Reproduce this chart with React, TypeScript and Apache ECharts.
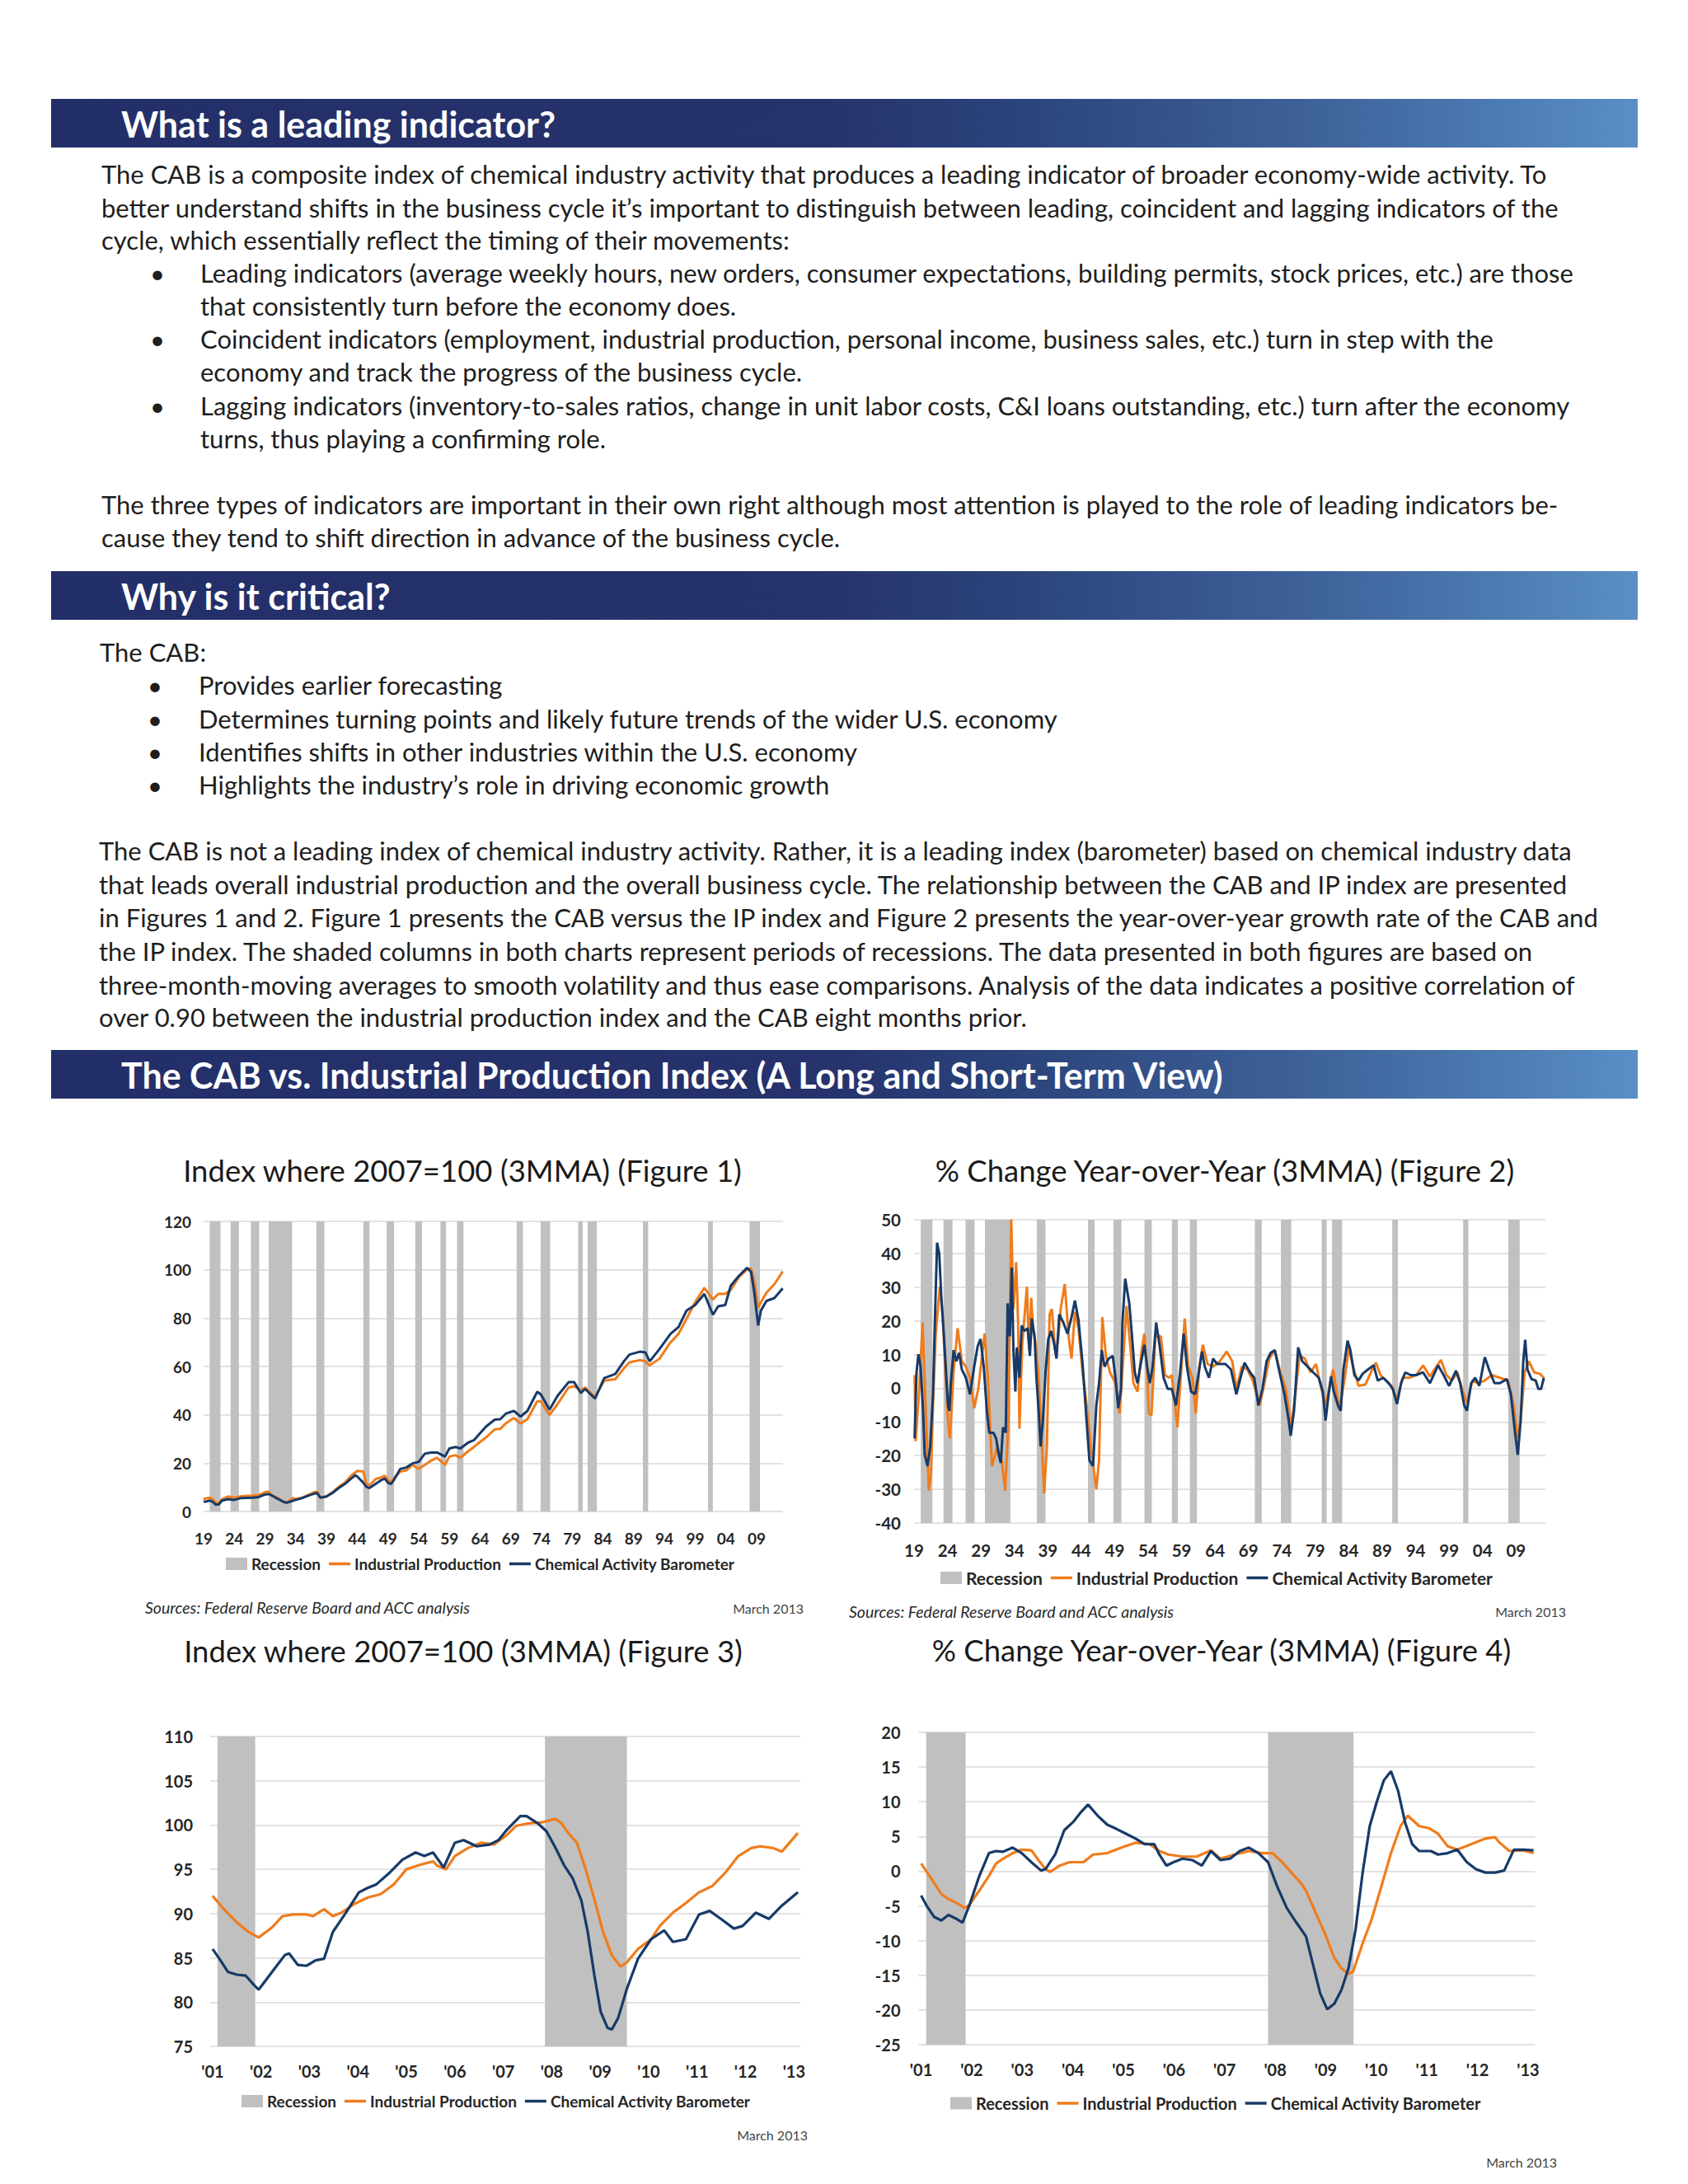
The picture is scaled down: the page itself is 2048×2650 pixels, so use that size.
import React, { useEffect, useRef } from "react";
import * as echarts from "echarts";

const FONT = "Lato, 'Open Sans', 'DejaVu Sans', sans-serif";
const TEXT = "#1e1e1e";
const ORANGE = "#f07c1b";
const NAVY = "#173a68";
const REC = "#c0c0c0";
const GRIDC = "#d9d9d9";

// NBER recession periods (decimal years) as drawn
const recessions: [number, number][] = [
  [1920.0, 1921.75], [1923.4, 1924.75], [1926.7, 1928.05], [1929.6, 1933.4],
  [1937.35, 1938.65], [1945.0, 1946.0], [1948.8, 1950.0], [1953.45, 1954.55],
  [1957.55, 1958.45], [1960.25, 1961.3], [1969.95, 1970.98], [1973.85, 1975.4],
  [1979.95, 1980.7], [1981.5, 1983.0], [1990.5, 1991.35], [2001.1, 2001.88],
  [2007.86, 2009.55],
];

// Figure 1: index 2007=100, long view
const fig1IP: [number, number][] = [
  [1919.0, 5.1], [1919.5, 5.5], [1920.0, 5.7], [1920.5, 5.2], [1921.0, 3.4], [1921.5, 3.6], [1922.0, 5.1],
  [1923.0, 6.2], [1924.0, 5.7], [1925.0, 6.2], [1926.0, 6.5], [1927.0, 6.6], [1928.0, 6.8], [1929.0, 8.0],
  [1929.6, 8.2], [1930.0, 6.8], [1931.0, 5.7], [1932.0, 4.0], [1932.5, 3.6], [1933.0, 4.5], [1933.6, 5.6],
  [1934.0, 5.1], [1935.0, 5.7], [1936.0, 6.8], [1937.0, 8.0], [1937.5, 8.2], [1938.0, 5.7], [1939.0, 6.2],
  [1940.0, 8.0], [1941.0, 10.2], [1942.0, 11.9], [1943.0, 14.8], [1944.0, 16.8], [1945.0, 16.5],
  [1945.5, 11.4], [1946.0, 10.8], [1947.0, 13.4], [1948.0, 14.2], [1948.5, 14.8], [1949.0, 13.1],
  [1949.5, 11.9], [1950.0, 13.9], [1951.0, 16.5], [1952.0, 17.0], [1953.0, 19.3], [1954.0, 17.6],
  [1955.0, 19.3], [1956.0, 21.0], [1957.0, 22.2], [1958.3, 19.3], [1959.0, 22.7], [1960.0, 23.3],
  [1960.8, 22.2], [1962.0, 24.8], [1963.0, 26.7], [1964.0, 28.8], [1965.0, 30.7], [1966.4, 34.0],
  [1967.3, 34.2], [1968.2, 36.5], [1969.5, 38.7], [1970.6, 36.4], [1971.7, 38.2], [1973.3, 45.6],
  [1973.9, 45.6], [1975.3, 39.9], [1976.6, 44.4], [1978.4, 51.3], [1979.3, 51.8], [1980.4, 50.0],
  [1981.1, 51.3], [1982.7, 47.3], [1984.2, 54.1], [1986.0, 54.7], [1987.4, 59.2], [1988.3, 61.7],
  [1990.0, 62.6], [1990.9, 62.1], [1991.6, 60.4], [1993.2, 63.2], [1995.0, 70.0], [1996.3, 73.5],
  [1997.6, 79.7], [1999.0, 86.6], [2000.5, 92.5], [2001.9, 87.7], [2002.75, 90.0], [2003.9, 90.0],
  [2004.8, 91.7], [2006.1, 96.8], [2007.45, 100.2], [2008.1, 100.5], [2008.6, 95.7], [2009.25, 84.3],
  [2009.7, 86.5], [2010.6, 90.5], [2011.9, 94.0], [2013.25, 99.3],
];
const fig1CAB: [number, number][] = [
  [1919.0, 4.0], [1919.5, 4.2], [1920.0, 4.5], [1920.5, 4.0], [1921.0, 2.8], [1921.5, 3.0], [1922.0, 4.5],
  [1923.0, 5.1], [1924.0, 4.8], [1925.0, 5.5], [1926.0, 5.6], [1927.0, 5.7], [1928.0, 6.0], [1929.0, 7.0],
  [1929.6, 7.2], [1930.0, 6.8], [1931.0, 5.3], [1932.0, 4.0], [1932.5, 3.6], [1933.0, 4.0], [1934.0, 4.8],
  [1935.0, 5.5], [1936.0, 6.5], [1937.0, 7.4], [1937.5, 7.6], [1938.0, 5.7], [1939.0, 6.2], [1940.0, 7.7],
  [1941.0, 9.7], [1942.0, 11.4], [1943.0, 13.6], [1943.7, 15.0], [1944.0, 14.5], [1945.0, 11.9],
  [1945.5, 10.2], [1946.0, 9.7], [1947.0, 11.4], [1948.0, 13.1], [1948.5, 13.6], [1949.0, 11.9],
  [1949.5, 11.4], [1950.0, 13.1], [1951.0, 17.6], [1952.0, 18.2], [1953.0, 19.9], [1954.0, 20.5],
  [1955.0, 23.9], [1956.0, 24.4], [1957.0, 24.4], [1958.3, 22.7], [1959.0, 26.1], [1960.0, 26.7],
  [1960.8, 26.1], [1962.0, 28.4], [1963.0, 29.5], [1964.0, 32.4], [1965.0, 35.2], [1966.4, 38.0],
  [1967.3, 38.2], [1968.2, 40.5], [1969.5, 41.6], [1970.6, 39.3], [1971.7, 41.6], [1973.3, 49.5],
  [1973.9, 48.4], [1975.3, 42.1], [1976.6, 47.8], [1978.4, 53.5], [1979.3, 53.5], [1980.4, 49.0],
  [1981.1, 50.7], [1982.7, 46.7], [1984.2, 55.2], [1986.0, 56.9], [1987.4, 62.1], [1988.3, 64.9],
  [1990.0, 66.1], [1990.9, 65.8], [1991.6, 62.1], [1993.2, 67.2], [1995.0, 73.5], [1996.3, 76.3],
  [1997.6, 83.1], [1999.0, 85.4], [2000.5, 90.0], [2001.9, 81.4], [2002.75, 84.9], [2003.9, 85.4],
  [2004.8, 93.4], [2006.1, 97.4], [2007.45, 100.8], [2008.1, 99.0], [2008.6, 91.1], [2009.25, 76.9],
  [2009.7, 83.1], [2010.6, 87.1], [2011.9, 88.3], [2013.25, 92.3],
];

// Figure 2: % change year-over-year, long view
const fig2IP: [number, number][] = [
  [1919.08, 3.9], [1919.24, -15.7], [1919.78, 0], [1920.27, 19.5], [1920.72, -5], [1921.21, -30.4],
  [1921.54, -25], [1921.83, -5], [1922.24, 16], [1922.85, 30.1], [1923.27, 22], [1923.68, 5], [1924.09, -10],
  [1924.37, -14.9], [1924.91, 5], [1925.52, 17.8], [1926.14, 8], [1926.75, 6.4], [1927.37, 3.1],
  [1927.99, -5.9], [1928.6, -0.2], [1929.55, 16.2], [1930.04, 3.1], [1930.65, -23.1], [1931.47, -17.3],
  [1932.09, -21.4], [1932.63, -30.4], [1933.12, -9.2], [1933.53, 50.1], [1933.86, 23.5], [1934.27, 37.4],
  [1934.56, 19.5], [1934.76, -12], [1935.17, 12.9], [1935.87, 30.1], [1936.19, 11.3], [1936.52, 26.8],
  [1936.81, 17], [1937.22, 12.9], [1937.63, 3.1], [1938.04, -13.2], [1938.45, -31.2], [1938.86, -17.3],
  [1939.27, 21.9], [1939.6, 23.5], [1940.09, 11.3], [1940.51, 13.7], [1940.92, 23.5], [1941.53, 30.9],
  [1942.15, 14.6], [1942.55, 8.8], [1943.05, 22.7], [1943.58, 17.8], [1944.2, 4.7], [1944.81, -5.1],
  [1945.43, -17.3], [1946.25, -30.0], [1946.66, -21.4], [1947.15, 21.1], [1947.68, 9.6], [1948.3, 4.7],
  [1949.12, 1.5], [1949.74, -7.5], [1950.36, 11.3], [1950.77, 24.4], [1951.39, 11.3], [1951.8, 1.5],
  [1952.41, -1.0], [1953.03, 11.3], [1953.44, 16.2], [1953.85, 4.7], [1954.1, -7.5], [1954.5, -8],
  [1955.08, 15.4], [1955.9, 15.4], [1956.52, 3.9], [1957.13, 3.1], [1957.54, 3.9], [1958.37, -11.6],
  [1958.98, 6.4], [1959.47, 20.7], [1960.01, 6.4], [1960.62, 3.1], [1961.12, -7.5], [1961.65, 6.4],
  [1962.18, 12.9], [1962.88, 7.2], [1963.7, 6.4], [1964.73, 8.0], [1965.75, 10.9], [1966.58, 8.0],
  [1967.19, -0.2], [1968.01, 6.4], [1968.83, 5.6], [1969.65, 2.3], [1970.68, -5.1], [1971.3, 0.7],
  [1972.12, 8.8], [1972.94, 11.3], [1973.76, 4.7], [1974.58, -0.2], [1975.4, -11.6], [1976.02, -1.8],
  [1976.63, 9.6], [1977.45, 8.8], [1978.27, 4.7], [1979.1, 7.2], [1979.71, 1.5], [1980.53, -5.1],
  [1981.64, 5.6], [1982.17, -1.0], [1982.59, -6.3], [1983.41, 3.1], [1984.02, 12.1], [1984.64, 6.4],
  [1985.46, 0.7], [1986.49, 1.1], [1987.51, 5.6], [1988.05, 7.6], [1988.74, 3.9], [1989.56, 2.3],
  [1990.39, 0.7], [1991.21, -3.4], [1992.03, 3.1], [1993.05, 3.1], [1994.08, 3.9], [1995.11, 6.8],
  [1996.13, 3.5], [1997.77, 8.4], [1998.6, 3.9], [1999.42, 2.3], [2000.24, 4.7], [2001.06, -1.0],
  [2001.67, -4.3], [2002.5, 2.3], [2003.32, 1.5], [2004.34, 2.3], [2005.37, 3.9], [2006.6, 3.1],
  [2007.83, 2.3], [2008.65, -5.1], [2009.27, -14.9], [2009.68, -10], [2010.3, 4.7], [2010.91, 8.0],
  [2011.73, 4.7], [2012.55, 4.3], [2013.17, 3.1],
];
const fig2CAB: [number, number][] = [
  [1919.08, -14.9], [1919.37, 4.7], [1919.65, 10.1], [1919.98, 6.4], [1920.31, -5.1], [1920.6, -19.8],
  [1921.01, -23.1], [1921.42, -17.3], [1921.83, -1.8], [1922.03, 13.7], [1922.44, 43.2], [1922.77, 39.9],
  [1923.06, 27.6], [1923.47, 15.4], [1923.88, 1.5], [1924.09, -5.1], [1924.29, -6.7], [1924.5, 1.5],
  [1924.91, 11.3], [1925.32, 8.0], [1925.73, 10.5], [1926.14, 5.6], [1926.75, 3.1], [1927.37, -1.8],
  [1927.99, 6.4], [1928.52, 12.5], [1928.93, 14.6], [1929.42, 6.4], [1929.92, -7.5], [1930.24, -13.2],
  [1930.86, -13.2], [1931.27, -14.9], [1931.68, -19.8], [1931.97, -22.2], [1932.3, -11.6], [1932.71, -13.2],
  [1932.99, 25.2], [1933.32, 15.4], [1933.61, 35.8], [1933.86, 11.3], [1934.15, -1.0], [1934.35, 12.1],
  [1934.76, 3.1], [1935.09, 18.6], [1935.5, 17.0], [1935.99, 17.8], [1936.32, 9.6], [1936.61, 20.7],
  [1937.02, 15.4], [1937.3, 3.1], [1937.63, -6.7], [1937.92, -17.3], [1938.25, -10.0], [1938.66, 4.7],
  [1939.07, 14.6], [1939.47, 17.0], [1939.89, 13.7], [1940.3, 8.8], [1940.71, 21.9], [1941.32, 19.5],
  [1941.94, 16.2], [1942.55, 21.1], [1943.05, 26.0], [1943.58, 20.3], [1944.2, 7.2], [1944.81, -10.0],
  [1945.22, -21.4], [1945.76, -23.1], [1946.25, -5.1], [1946.66, 1.5], [1947.07, 11.3], [1947.48, 6.4],
  [1948.1, 8.8], [1948.71, 9.6], [1949.12, 3.1], [1949.53, -5.9], [1949.94, -0.2], [1950.16, 19.5],
  [1950.57, 32.5], [1951.18, 25.2], [1951.59, 15.4], [1952.0, 4.7], [1952.41, 1.5], [1952.82, 6.4],
  [1953.44, 12.9], [1953.85, 6.4], [1954.26, 1.5], [1954.67, 6.4], [1955.2, 19.5], [1955.7, 12.9],
  [1956.31, 3.1], [1956.93, -0.2], [1957.54, -0.2], [1958.16, -5.1], [1958.78, 4.7], [1959.31, 16.2],
  [1959.8, 6.4], [1960.42, -1.0], [1961.03, -1.8], [1961.44, 3.1], [1962.06, 10.9], [1962.47, 6.4],
  [1963.09, 3.1], [1963.7, 8.8], [1964.32, 7.2], [1965.55, 7.2], [1966.37, 5.6], [1967.19, -1.8],
  [1967.81, 3.1], [1968.42, 7.6], [1969.24, 4.7], [1969.86, 3.1], [1970.48, -5.1], [1971.09, -0.2],
  [1971.71, 8.0], [1972.32, 10.5], [1972.94, 11.3], [1973.55, 5.6], [1974.38, -1.8], [1974.99, -9.2],
  [1975.32, -14.1], [1975.81, -6.7], [1976.43, 12.1], [1977.04, 8.0], [1977.86, 6.4], [1978.69, 4.7],
  [1979.51, 3.1], [1980.12, -1.0], [1980.53, -9.6], [1980.94, -2.6], [1981.35, 3.5], [1981.76, -1.0],
  [1982.38, -5.1], [1982.79, -6.7], [1983.2, 5.6], [1983.82, 14.1], [1984.23, 11.3], [1984.84, 3.9],
  [1985.46, 2.3], [1986.07, 4.3], [1986.9, 5.6], [1987.72, 6.8], [1988.33, 2.3], [1989.15, 3.1],
  [1989.97, 1.5], [1990.59, -0.2], [1991.21, -4.7], [1991.82, 1.5], [1992.44, 4.7], [1993.26, 3.9],
  [1994.08, 3.9], [1995.11, 4.7], [1996.13, 1.5], [1997.36, 6.8], [1998.18, 3.9], [1999.0, 0.7],
  [2000.03, 5.2], [2000.65, 1.5], [2001.26, -5.1], [2001.67, -6.7], [2002.29, 1.5], [2002.9, 3.1],
  [2003.52, 0.7], [2004.34, 9.2], [2004.96, 5.6], [2005.78, 1.5], [2006.6, 1.5], [2007.63, 2.7],
  [2008.24, -1.8], [2008.86, -13.2], [2009.27, -19.8], [2009.68, -10.0], [2010.09, 8.0], [2010.38, 14.4],
  [2010.71, 5.6], [2011.32, 2.7], [2011.94, 2.3], [2012.35, -0.2], [2012.76, -0.2], [2013.17, 3.1],
];

// Figure 3: index 2007=100, short view
const fig3IP: [number, number][] = [
  [2001.0, 92.0], [2001.23, 90.5], [2001.5, 89.0], [2001.72, 88.0], [2001.95, 87.3], [2002.22, 88.4],
  [2002.44, 89.7], [2002.67, 89.9], [2002.94, 89.9], [2003.07, 89.7], [2003.3, 90.5], [2003.48, 89.7],
  [2003.66, 90.1], [2003.93, 91.1], [2004.2, 91.8], [2004.47, 92.2], [2004.74, 93.3], [2005.0, 95.0],
  [2005.28, 95.5], [2005.55, 95.9], [2005.64, 95.4], [2005.82, 95.0], [2006.0, 96.5], [2006.27, 97.4],
  [2006.54, 98.0], [2006.81, 97.8], [2007.08, 98.9], [2007.26, 99.9], [2007.53, 100.2], [2007.8, 100.3],
  [2008.07, 100.7], [2008.2, 100.2], [2008.34, 99.1], [2008.52, 98.0], [2008.7, 95.0], [2008.88, 91.6],
  [2009.06, 87.9], [2009.24, 85.3], [2009.42, 84.0], [2009.55, 84.5], [2009.78, 86.0], [2010.05, 87.1],
  [2010.23, 88.6], [2010.5, 90.1], [2010.77, 91.2], [2011.04, 92.4], [2011.31, 93.1], [2011.58, 94.6],
  [2011.85, 96.5], [2012.12, 97.4], [2012.3, 97.6], [2012.57, 97.4], [2012.75, 97.0], [2013.08, 99.1],
];
const fig3CAB: [number, number][] = [
  [2001.0, 86.0], [2001.14, 84.9], [2001.32, 83.4], [2001.5, 83.1], [2001.68, 83.0], [2001.86, 81.9],
  [2001.95, 81.4], [2002.13, 82.7], [2002.31, 84.0], [2002.49, 85.3], [2002.58, 85.5], [2002.76, 84.2],
  [2002.94, 84.1], [2003.12, 84.7], [2003.3, 84.9], [2003.48, 87.9], [2003.75, 90.1], [2004.02, 92.4],
  [2004.2, 92.9], [2004.38, 93.3], [2004.65, 94.6], [2004.92, 96.1], [2005.19, 96.9], [2005.37, 96.5],
  [2005.55, 96.9], [2005.77, 95.2], [2006.0, 98.0], [2006.18, 98.3], [2006.45, 97.6], [2006.72, 97.8],
  [2006.9, 98.3], [2007.08, 99.5], [2007.35, 101.0], [2007.48, 101.0], [2007.71, 100.2], [2007.89, 99.3],
  [2008.07, 97.5], [2008.25, 95.5], [2008.43, 94.0], [2008.61, 91.5], [2008.74, 88.0], [2008.88, 83.0],
  [2009.01, 78.9], [2009.15, 77.1], [2009.24, 76.9], [2009.37, 78.2], [2009.55, 81.5], [2009.78, 84.9],
  [2010.05, 87.1], [2010.32, 88.1], [2010.5, 86.8], [2010.77, 87.1], [2011.04, 89.9], [2011.26, 90.3],
  [2011.49, 89.4], [2011.76, 88.3], [2011.94, 88.6], [2012.21, 90.1], [2012.48, 89.4], [2012.75, 90.9],
  [2013.08, 92.4],
];

// Figure 4: % change year-over-year, short view
const fig4IP: [number, number][] = [
  [2001.0, 1.1], [2001.12, -0.2], [2001.26, -1.7], [2001.4, -3.3], [2001.54, -4.0], [2001.68, -4.5],
  [2001.87, -5.3], [2001.96, -4.8], [2002.15, -2.8], [2002.34, -0.7], [2002.48, 1.1], [2002.62, 1.8],
  [2002.81, 2.6], [2002.99, 3.1], [2003.18, 3.0], [2003.32, 1.6], [2003.46, 0.3], [2003.55, -0.1],
  [2003.74, 0.8], [2003.93, 1.3], [2004.21, 1.3], [2004.4, 2.4], [2004.68, 2.6], [2004.96, 3.4],
  [2005.24, 4.1], [2005.52, 3.9], [2005.71, 2.9], [2005.89, 2.4], [2006.17, 2.1], [2006.45, 2.1],
  [2006.73, 3.0], [2006.92, 1.8], [2007.2, 2.4], [2007.48, 2.9], [2007.76, 2.6], [2007.95, 2.6],
  [2008.14, 1.3], [2008.32, -0.2], [2008.51, -1.7], [2008.61, -2.8], [2008.79, -5.8], [2008.98, -8.9],
  [2009.17, -12.5], [2009.31, -14.0], [2009.45, -14.8], [2009.54, -14.5], [2009.73, -10.4], [2009.91, -6.9],
  [2010.1, -2.2], [2010.29, 2.6], [2010.48, 6.5], [2010.62, 8.0], [2010.85, 6.5], [2011.04, 6.2],
  [2011.22, 5.4], [2011.41, 3.6], [2011.6, 3.1], [2011.88, 3.9], [2012.16, 4.7], [2012.35, 4.9],
  [2012.44, 4.1], [2012.63, 2.9], [2012.91, 3.0], [2013.11, 2.6],
];
const fig4CAB: [number, number][] = [
  [2001.0, -3.5], [2001.12, -5.1], [2001.26, -6.6], [2001.4, -7.1], [2001.54, -6.3], [2001.68, -6.8],
  [2001.82, -7.4], [2001.96, -4.8], [2002.15, -0.7], [2002.34, 2.6], [2002.48, 2.9], [2002.62, 2.8],
  [2002.81, 3.4], [2002.99, 2.6], [2003.18, 1.3], [2003.37, 0.1], [2003.46, 0.3], [2003.65, 2.4],
  [2003.83, 5.9], [2004.02, 7.2], [2004.16, 8.5], [2004.3, 9.6], [2004.49, 8.0], [2004.68, 6.7],
  [2004.86, 6.1], [2005.05, 5.4], [2005.24, 4.7], [2005.42, 3.9], [2005.61, 3.9], [2005.71, 2.4],
  [2005.85, 0.8], [2005.99, 1.3], [2006.17, 1.8], [2006.36, 1.6], [2006.55, 0.8], [2006.73, 2.9],
  [2006.92, 1.6], [2007.11, 1.8], [2007.3, 2.9], [2007.48, 3.4], [2007.67, 2.6], [2007.86, 1.3],
  [2008.04, -2.2], [2008.23, -5.3], [2008.42, -7.4], [2008.61, -9.4], [2008.75, -13.5], [2008.89, -17.6],
  [2009.03, -19.9], [2009.17, -19.1], [2009.31, -17.1], [2009.45, -14.0], [2009.59, -8.4], [2009.73, -0.2],
  [2009.87, 6.5], [2010.01, 10.0], [2010.15, 13.1], [2010.29, 14.4], [2010.43, 11.6], [2010.57, 7.0],
  [2010.71, 3.9], [2010.85, 2.9], [2011.08, 2.9], [2011.22, 2.4], [2011.41, 2.6], [2011.6, 3.1],
  [2011.79, 1.3], [2011.97, 0.3], [2012.16, -0.2], [2012.35, -0.2], [2012.53, 0.1], [2012.72, 3.1],
  [2012.91, 3.1], [2013.11, 3.0],
];

const longTicks = [1919, 1924, 1929, 1934, 1939, 1944, 1949, 1954, 1959, 1964, 1969, 1974, 1979, 1984, 1989, 1994, 1999, 2004, 2009];
const shortTicks = [2001, 2002, 2003, 2004, 2005, 2006, 2007, 2008, 2009, 2010, 2011, 2012, 2013];

const heading1 = "What is a leading indicator?";
const heading2 = "Why is it critical?";
const heading3 = "The CAB vs. Industrial Production Index (A Long and Short-Term View)";

const intro1 = [
  "The CAB is a composite index of chemical industry activity that produces a leading indicator of broader economy-wide activity. To",
  "better understand shifts in the business cycle it\u2019s important to distinguish between leading, coincident and lagging indicators of the",
  "cycle, which essentially reflect the timing of their movements:",
];
const bullets1 = [
  ["Leading indicators (average weekly hours, new orders, consumer expectations, building permits, stock prices, etc.) are those", "that consistently turn before the economy does."],
  ["Coincident indicators (employment, industrial production, personal income, business sales, etc.) turn in step with the", "economy and track the progress of the business cycle."],
  ["Lagging indicators (inventory-to-sales ratios, change in unit labor costs, C&I loans outstanding, etc.) turn after the economy", "turns, thus playing a confirming role."],
];
const outro1 = [
  "The three types of indicators are important in their own right although most attention is played to the role of leading indicators be-",
  "cause they tend to shift direction in advance of the business cycle.",
];
const bullets2 = [
  "Provides earlier forecasting",
  "Determines turning points and likely future trends of the wider U.S. economy",
  "Identifies shifts in other industries within the U.S. economy",
  "Highlights the industry\u2019s role in driving economic growth",
];
const para2 = [
  "The CAB is not a leading index of chemical industry activity. Rather, it is a leading index (barometer) based on chemical industry data",
  "that leads overall industrial production and the overall business cycle. The relationship between the CAB and IP index are presented",
  "in Figures 1 and 2. Figure 1 presents the CAB versus the IP index and Figure 2 presents the year-over-year growth rate of the CAB and",
  "the IP index. The shaded columns in both charts represent periods of recessions. The data presented in both figures are based on",
  "three-month-moving averages to smooth volatility and thus ease comparisons. Analysis of the data indicates a positive correlation of",
  "over 0.90 between the industrial production index and the CAB eight months prior.",
];

const titles = [
  "Index where 2007=100 (3MMA) (Figure 1)",
  "% Change Year-over-Year (3MMA) (Figure 2)",
  "Index where 2007=100 (3MMA) (Figure 3)",
  "% Change Year-over-Year (3MMA) (Figure 4)",
];
const sourceText = "Sources: Federal Reserve Board and ACC analysis";
const dateText = "March 2013";
const legendNames = ["Recession", "Industrial Production", "Chemical Activity Barometer"];

const BODY = 31;

function txt(x: number, y: number, t: string, o: any = {}) {
  return {
    type: "text",
    x,
    y,
    silent: true,
    style: {
      text: t,
      fontSize: o.size || BODY,
      fontFamily: FONT,
      fontWeight: o.weight || "normal",
      fontStyle: o.italic ? "italic" : "normal",
      fill: o.color || TEXT,
      align: o.align || "left",
      verticalAlign: "middle",
    },
  };
}

function headerBar(y: number, label: string) {
  return [
    {
      type: "rect",
      silent: true,
      shape: { x: 62, y, width: 1925, height: 59 },
      style: {
        fill: new echarts.graphic.LinearGradient(0, 0, 1, 0, [
          { offset: 0, color: "#232f69" },
          { offset: 0.48, color: "#26326b" },
          { offset: 0.6, color: "#2a427a" },
          { offset: 0.78, color: "#3d5f97" },
          { offset: 0.9, color: "#4a78b0" },
          { offset: 1, color: "#5a8fc6" },
        ]),
      },
    },
    txt(147, y + 30, label, { size: 43, weight: "bold", color: "#ffffff" }),
  ];
}

const figs = [
  {
    grid: { left: 247, top: 1482, width: 703, height: 352 },
    x: [1919, 2013.3], y: [0, 120, 20], ticks: longTicks, short: false,
    ip: fig1IP, cab: fig1CAB, recs: recessions, fs: 19, xm: 23, ym: 15, lw: 3,
    legend: { left: 274, top: 1888, fs: 19 },
    title: [561, 1420], source: [176, 1950], date: [975, 1951],
  },
  {
    grid: { left: 1109, top: 1480, width: 766, height: 368 },
    x: [1919, 2013.4], y: [-40, 50, 10], ticks: longTicks, short: false,
    ip: fig2IP, cab: fig2CAB, recs: recessions, fs: 20.5, xm: 22, ym: 16, lw: 3,
    legend: { left: 1141, top: 1904, fs: 21 },
    title: [1486, 1420], source: [1030, 1955], date: [1900, 1955],
  },
  {
    grid: { left: 255, top: 2107, width: 716, height: 376 },
    x: [2000.95, 2013.13], y: [75, 110, 5], ticks: shortTicks, short: true,
    ip: fig3IP, cab: fig3CAB, recs: recessions.filter((r) => r[0] > 2000), fs: 20, xm: 20, ym: 21, lw: 3.2,
    legend: { left: 293, top: 2540, fs: 19 },
    title: [562, 2003], source: null, date: [980, 2590],
  },
  {
    grid: { left: 1114.5, top: 2102, width: 748, height: 379 },
    x: [2000.95, 2013.14], y: [-25, 20, 5], ticks: shortTicks, short: true,
    ip: fig4IP, cab: fig4CAB, recs: recessions.filter((r) => r[0] > 2000), fs: 20, xm: 20, ym: 22, lw: 3.2,
    legend: { left: 1153, top: 2542, fs: 20 },
    title: [1482, 2002], source: null, date: [1889, 2623],
  },
];

function buildOption() {
  const grids: any[] = [];
  const xAxes: any[] = [];
  const yAxes: any[] = [];
  const series: any[] = [];
  const legends: any[] = [];
  const graphics: any[] = [];

  figs.forEach((f, i) => {
    grids.push({ ...f.grid, containLabel: false });
    const fmt = (v: number) => {
      const yy = String(Math.round(v) % 100).padStart(2, "0");
      return f.short ? "'" + yy : yy;
    };
    xAxes.push({
      type: "value",
      gridIndex: i,
      min: f.x[0],
      max: f.x[1],
      axisLine: { show: false },
      axisTick: { show: false },
      splitLine: { show: false },
      axisLabel: {
        customValues: f.ticks,
        formatter: fmt,
        fontFamily: FONT,
        fontWeight: "bold",
        fontSize: f.fs,
        color: "#262626",
        margin: f.xm,
      },
    });
    yAxes.push({
      type: "value",
      gridIndex: i,
      min: f.y[0],
      max: f.y[1],
      interval: f.y[2],
      axisLine: { show: false },
      axisTick: { show: false },
      splitLine: { show: true, lineStyle: { color: GRIDC, width: 1.5 } },
      axisLabel: {
        fontFamily: FONT,
        fontWeight: "bold",
        fontSize: f.fs,
        color: "#262626",
        margin: f.ym,
      },
    });
    series.push({
      type: "bar",
      name: legendNames[0],
      xAxisIndex: i,
      yAxisIndex: i,
      data: [],
      z: 1,
      itemStyle: { color: REC },
      markArea: {
        silent: true,
        label: { show: false },
        itemStyle: { color: REC },
        data: f.recs.map((r) => [{ xAxis: r[0] }, { xAxis: r[1] }]),
      },
    });
    series.push({
      type: "line",
      name: legendNames[1],
      xAxisIndex: i,
      yAxisIndex: i,
      data: f.ip,
      symbol: "none",
      showSymbol: false,
      z: 3,
      lineStyle: { color: ORANGE, width: f.lw },
      itemStyle: { color: ORANGE },
    });
    series.push({
      type: "line",
      name: legendNames[2],
      xAxisIndex: i,
      yAxisIndex: i,
      data: f.cab,
      symbol: "none",
      showSymbol: false,
      z: 4,
      lineStyle: { color: NAVY, width: f.lw },
      itemStyle: { color: NAVY },
    });
    legends.push({
      left: f.legend.left,
      top: f.legend.top,
      orient: "horizontal",
      itemWidth: 26,
      itemHeight: 15,
      itemGap: 10,
      selectedMode: false,
      padding: 0,
      textStyle: { fontFamily: FONT, fontWeight: "bold", fontSize: f.legend.fs, color: "#262626", padding: [0, 0, 0, 0] },
      data: [
        { name: legendNames[0], icon: "rect", itemStyle: { color: REC } },
        { name: legendNames[1], icon: "path://M0 0H26V3.5H0Z", itemStyle: { color: ORANGE } },
        { name: legendNames[2], icon: "path://M0 0H26V3.5H0Z", itemStyle: { color: NAVY } },
      ],
    });
    graphics.push(txt(f.title[0], f.title[1], titles[i], { size: 36.5, align: "center", color: "#1a1a1a" }));
    if (f.source) graphics.push(txt(f.source[0], f.source[1], sourceText, { size: 19.5, italic: true, color: "#2a2a2a" }));
    graphics.push(txt(f.date[0], f.date[1], dateText, { size: 16, align: "right", color: "#444" }));
  });

  // Headers and body text
  graphics.push(...headerBar(120, heading1));
  const l1 = [211, 252, 291];
  intro1.forEach((t, k) => graphics.push(txt(123, l1[k], t)));
  const by = [[331, 371], [411, 451], [492, 532]];
  bullets1.forEach((b, k) => {
    graphics.push(txt(191, by[k][0], "\u2022", { align: "center" }));
    graphics.push(txt(243, by[k][0], b[0]));
    graphics.push(txt(243, by[k][1], b[1]));
  });
  graphics.push(txt(123, 612, outro1[0]));
  graphics.push(txt(123, 652, outro1[1]));

  graphics.push(...headerBar(693, heading2));
  graphics.push(txt(121, 791, "The CAB:"));
  const b2y = [831, 872, 912, 952];
  bullets2.forEach((t, k) => {
    graphics.push(txt(188, b2y[k], "\u2022", { align: "center" }));
    graphics.push(txt(241, b2y[k], t));
  });
  const p2y = [1032, 1073, 1113, 1154, 1195, 1234];
  para2.forEach((t, k) => graphics.push(txt(120, p2y[k], t)));

  graphics.push(...headerBar(1274, heading3));

  return {
    animation: false,
    backgroundColor: "#ffffff",
    textStyle: { fontFamily: FONT },
    grid: grids,
    xAxis: xAxes,
    yAxis: yAxes,
    legend: legends,
    series,
    graphic: { elements: graphics },
  };
}

export default function App() {
  const ref = useRef<HTMLDivElement>(null);
  useEffect(() => {
    if (!ref.current) return;
    const chart = echarts.init(ref.current, null, { renderer: "svg" });
    chart.setOption(buildOption() as any);
    return () => chart.dispose();
  }, []);
  return (
    <div
      ref={ref}
      style={{ position: "absolute", left: 0, top: 0, width: 2048, height: 2650, background: "#ffffff" }}
    />
  );
}
